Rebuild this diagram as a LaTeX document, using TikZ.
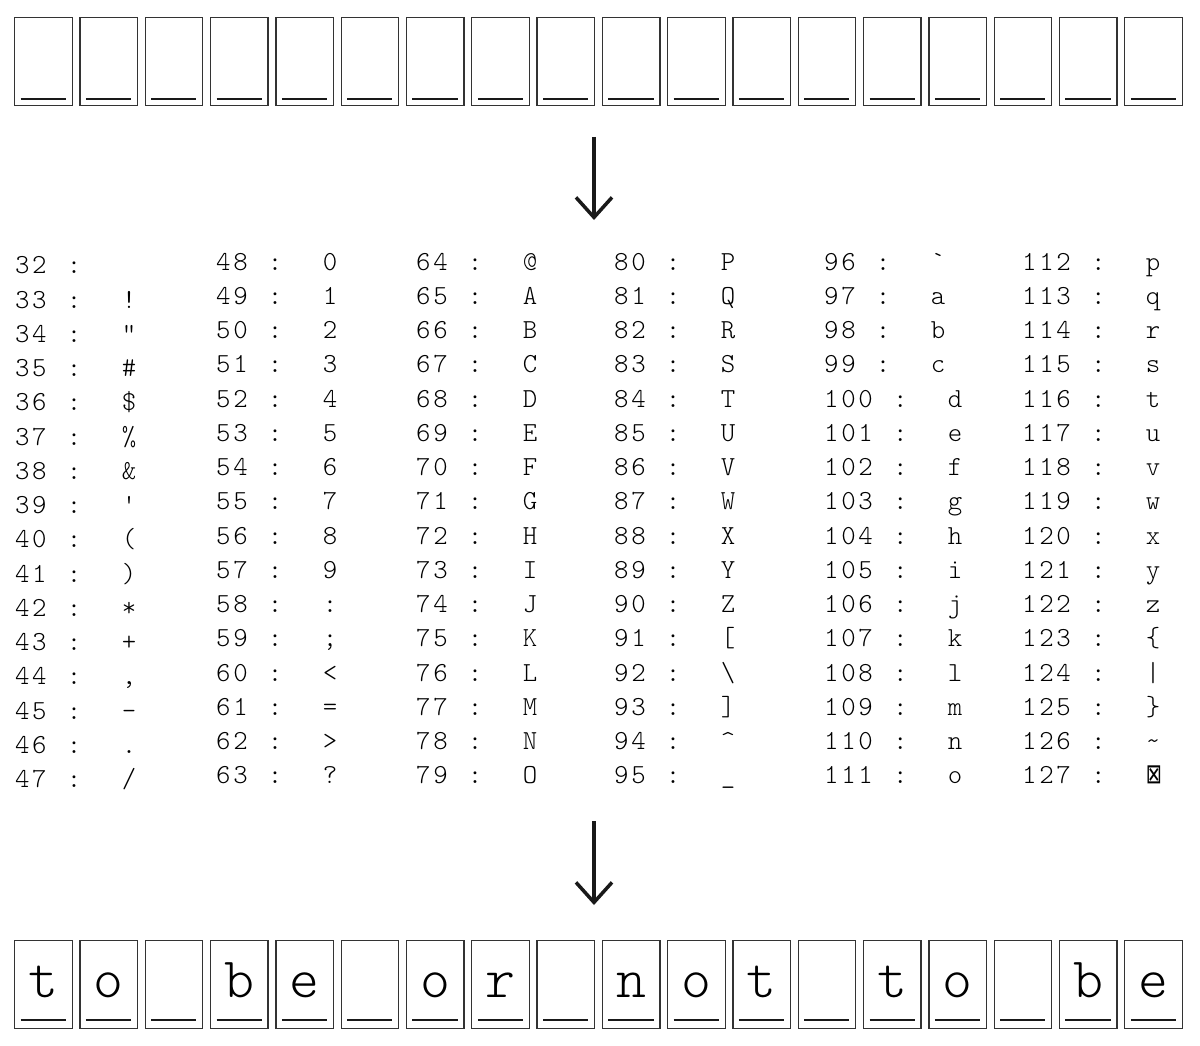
\documentclass[tikz,border=0pt]{standalone}
\usepackage{fontspec}
\newfontfamily\chrfont[LetterSpace=9.6,WordSpace=1.185]{lmmonolt10-regular.otf}
\newfontfamily\bigfont{lmmonolt10-regular.otf}
\newfontfamily\symfont{DejaVu Sans}
\usetikzlibrary{arrows.meta}
\newcommand{\chrclw}{57.5}
\newcommand{\chrclh}{88}
\newcommand{\chrclp}{65.3}
\newcommand{\chrclxa}{43.45}
\newcommand{\chrclya}{61.5}
\newcommand{\chrclyb}{984.5}
\newcommand{\chrbsl}{997}
\newcommand{\tblrwh}{34.25}

\tikzset{
  chrcell/.style={draw=black!80, line width=1.3pt, minimum width=\chrclw pt,
    minimum height=\chrclh pt, inner sep=0pt},
  chrbar/.style={line width=2.4pt, black!90},
  tblentry/.style={anchor=base west, inner sep=0pt, text=black,
    font=\chrfont\fontsize{27.5}{27.5}\selectfont},
  bigchr/.style={anchor=base, inner sep=0pt, font=\bigfont\fontsize{57}{57}\selectfont},
  flowarr/.style={line width=3.5pt, black!90, -{Straight Barb[length=20pt,width=36pt]}}
}

\begin{document}
\begin{tikzpicture}[x=1pt, y=-1pt]

    \useasboundingbox (0,0) rectangle (1200,1046);

    \foreach \i in {0,...,17}{
      \node [chrcell] (top\i) at (\chrclxa+\i*\chrclp, \chrclya) {};
      \draw [chrbar] ([shift={(6.6,-7.4)}]top\i.south west) -- ([shift={(-7,-7.4)}]top\i.south east);
    }

    \coordinate (tpa) at (594,137);
    \coordinate (tpb) at (594,220);
    \draw [flowarr] (tpa) -- (tpb);

    \foreach \c/\x/\y in {0/15/273.8, 1/216/270, 2/416/270, 3/614/270, 4/824/270, 5/1022/270}{
      \foreach \r in {0,...,15}{
        \pgfmathtruncatemacro{\n}{32+16*\c+\r}
        \node [tblentry] (asc\n) at (\x, \y+\r*\tblrwh)
          {\n~:~~\ifnum\n=127\relax{\symfont\scalebox{0.7}[1]{⊠}}\else\char\n\fi};
      }
    }

    \coordinate (bta) at (594,821);
    \coordinate (btb) at (594,905);
    \draw [flowarr] (bta) -- (btb);

    \foreach \c [count=\i from 0] in {t,o,,b,e,,o,r,,n,o,t,,t,o,,b,e}{
      \node [chrcell] (bot\i) at (\chrclxa+\i*\chrclp, \chrclyb) {};
      \draw [chrbar] ([shift={(6.6,-9)}]bot\i.south west) -- ([shift={(-7,-9)}]bot\i.south east);
      \node [bigchr] (chr\i) at (\chrclxa+\i*\chrclp, \chrbsl) {\c};
    }

  \end{tikzpicture}
\end{document}
